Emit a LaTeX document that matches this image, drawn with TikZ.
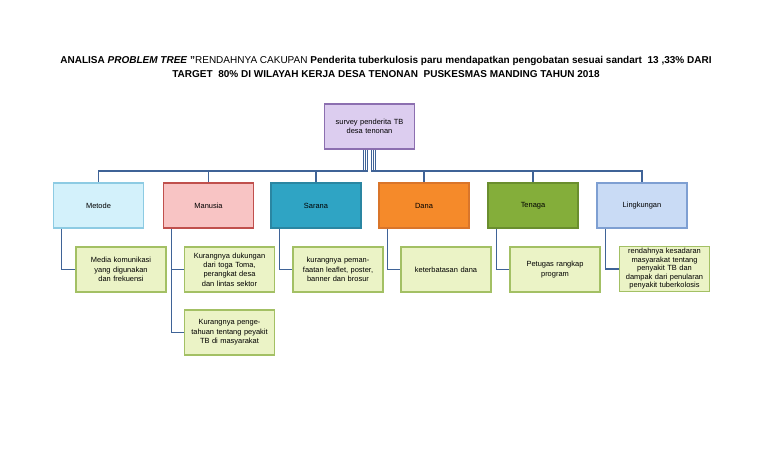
\documentclass[tikz,border=0pt]{standalone}
\usepackage{fontspec}
\setmainfont{Liberation Sans}
\definecolor{cline}{HTML}{3F6397}
\definecolor{kfill}{HTML}{EBF3C6}
\definecolor{kdraw}{HTML}{A3C064}
\definecolor{tfill}{HTML}{DCCDEF}\definecolor{tdraw}{HTML}{8C6FB0}
\definecolor{afill}{HTML}{D3F1FB}\definecolor{adraw}{HTML}{8DCBE3}
\definecolor{bfill}{HTML}{F8C4C4}\definecolor{bdraw}{HTML}{C0504D}
\definecolor{cfill}{HTML}{2FA4C4}\definecolor{cdraw}{HTML}{2A86A2}
\definecolor{dfill}{HTML}{F58A2A}\definecolor{ddraw}{HTML}{D9752A}
\definecolor{efill}{HTML}{84AE3A}\definecolor{edraw}{HTML}{6A8E2E}
\definecolor{ffill}{HTML}{C9DBF5}\definecolor{fdraw}{HTML}{7E9FD2}
\begin{document}
\begin{tikzpicture}[x=0.75pt,y=-0.75pt,
  box/.style={draw, line width=0.8pt, minimum width=67.5pt, minimum height=33.75pt, inner sep=1pt, align=center, font=\fontsize{5.6}{7}\selectfont, text width=60pt},
  kid/.style={box, fill=kfill, draw=kdraw},
  con/.style={draw=cline, line width=1.3pt},
  scon/.style={draw=cline, line width=0.9pt}]
\useasboundingbox (0,0) rectangle (768,466);
\node[font=\bfseries\fontsize{7.5}{10.5}\selectfont, align=center] (title) at (386,67)
 {ANALISA \textit{PROBLEM TREE} "\textmd{RENDAHNYA CAKUPAN} Penderita tuberkulosis paru mendapatkan pengobatan sesuai sandart\ \ 13 ,33\% DARI\\ TARGET\ \ 80\% DI WILAYAH KERJA DESA TENONAN\ \ PUSKESMAS MANDING TAHUN 2018};
\node[box, fill=tfill, draw=tdraw] (top) at (369.5,126.5) {survey penderita TB\\ desa tenonan};
\node[box, fill=afill, draw=adraw] (m1) at (98.5,205.5) {Metode};
\node[box, fill=bfill, draw=bdraw] (m2) at (208.5,205.5) {Manusia};
\node[box, fill=cfill, draw=cdraw] (m3) at (316,205.5) {Sarana};
\node[box, fill=dfill, draw=ddraw] (m4) at (424,205.5) {Dana};
\node[box, fill=efill, draw=edraw] (m5) at (533,205.5) {Tenaga};
\node[box, fill=ffill, draw=fdraw] (m6) at (642,205.5) {Lingkungan};
\node[kid] (k1) at (121,269.5) {Media komunikasi yang digunakan dan frekuensi};
\node[kid] (k2) at (229.5,269.5) {Kurangnya dukungan dari toga Toma, perangkat desa dan lintas sektor};
\node[kid] (k2b) at (229.5,332.5) {Kurangnya pengetahuan tentang peyakit TB di masyarakat};
\node[kid] (k3) at (338,269.5) {kurangnya pemanfaatan leaflet, poster, banner dan brosur};
\node[kid] (k4) at (446,269.5) {keterbatasan dana};
\node[kid] (k5) at (555,269.5) {Petugas rangkap program};
\node[kid, font=\fontsize{5.6}{6.4}\selectfont, text width=64pt] (k6) at (664.5,269) {rendahnya kesadaran masyarakat tentang penyakit TB dan dampak dari penularan penyakit tuberkolosis};
\coordinate (bus) at (0,171);
\foreach \m/\dx in {m1/-4.5,m2/-3,m3/-1.5,m4/1.5,m5/3,m6/4.5}{
  \draw[con] ([xshift=\dx]top.south) |- (bus -| \m.north) -- (\m.north);
}
\foreach \m/\k in {m1/k1,m2/k2,m2/k2b,m3/k3,m4/k4,m5/k5,m6/k6}{
  \draw[scon] ([xshift=-27.5pt]\m.south) |- (\k.west);
}
\end{tikzpicture}
\end{document}
